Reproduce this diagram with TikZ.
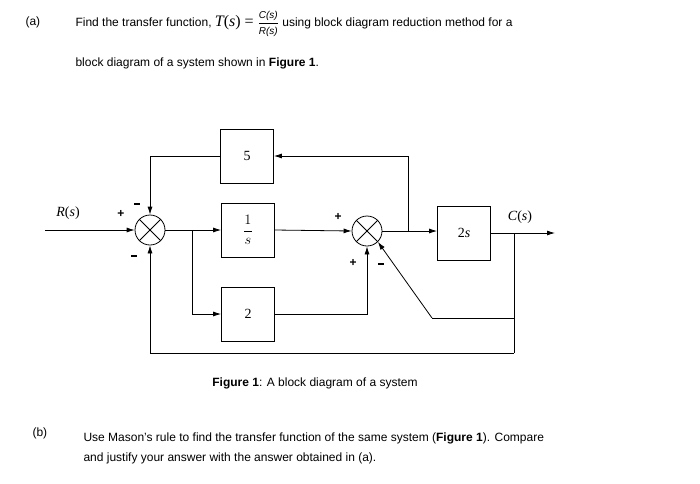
\documentclass[tikz,border=0pt]{standalone}
\usepackage{fontspec}
\setmainfont{Liberation Sans}
\newfontfamily\serifx{Liberation Serif}
\usetikzlibrary{arrows.meta}
\begin{document}
\begin{tikzpicture}[x=1pt,y=-1pt,
  blk/.style={draw,thick,minimum width=53pt,minimum height=54pt,inner sep=0pt,font=\serifx\fontsize{14}{16}\selectfont},
  sumj/.style={draw,thick,circle,minimum size=30pt,inner sep=0pt},
  sig/.style={thick,-{Latex[length=8pt,width=5pt]}},
  ln/.style={thick},
  mns/.style={line width=1.4pt},
  lbl/.style={font=\fontsize{12}{14}\selectfont},
  sgn/.style={font=\bfseries\fontsize{12}{12}\selectfont,inner sep=1pt}]
\useasboundingbox (0,0) rectangle (700,483);
\fill[white] (0,0) rectangle (700,483);
% header
\node[lbl,anchor=west] (qa) at (22,22) {(a)};
\node[lbl,anchor=west] (qt) at (72,24) {Find the transfer function, {\serifx\itshape\fontsize{16}{16}\selectfont T\upshape(\itshape s\upshape)\ =\ }$\displaystyle\frac{\mbox{\fontsize{10}{10}\selectfont\itshape C(s)}}{\mbox{\fontsize{10}{10}\selectfont\itshape R(s)}}$\ using block diagram reduction method for a};
\node[lbl,anchor=west] (ql) at (72,63) {block diagram of a system shown in \textbf{Figure 1}.};
% diagram
\node[sumj] (s1) at (150,230) {};
\draw[thick] (s1.45)--(s1.225) (s1.135)--(s1.315);
\node[sumj] (s2) at (367,231) {};
\draw[thick] (s2.45)--(s2.225) (s2.135)--(s2.315);
\node[blk] (b5) at (247,156) {5};
\node[blk] (bs) at (248,230) {$\displaystyle\frac{1}{s}$};
\node[blk] (b2) at (248,314) {2};
\node[blk] (b2s) at (464,233) {2\itshape s};
\coordinate (rin) at (45,230);
\coordinate (cout) at (555,233);
\node[font=\serifx\fontsize{14}{16}\selectfont] (rl) at (68,213) {\itshape R\upshape(\itshape s\upshape)};
\node[font=\serifx\fontsize{14}{16}\selectfont] (cl) at (520,217) {\itshape C\upshape(\itshape s\upshape)};
\draw[sig] (rin) -- (s1.west);
\draw[sig] (s1.east) -- (bs.west);
\draw[sig] (bs.east) -- (s2.west);
\draw[sig] (s2.east) -- (s2.east -| b2s.west);
\draw[sig] (b2s.east) -- (cout);
\coordinate (j1) at (192,231);
\draw[sig] (j1) |- (b2.west);
\draw[sig] (b2.east) -| (s2.south);
\coordinate (j2) at (408,231);
\draw[sig] (j2) |- (b5.east);
\draw[sig] (b5.west) -| (s1.north);
\coordinate (j3) at (514,233);
\draw[ln] (j3) -- (514,353) coordinate (c1);
\draw[sig] (c1) -| (s1.south);
\draw[ln] (514,318) -- (432,318) coordinate (c2);
\draw[sig] (c2) -- (s2.south east);
% signs
\node[sgn] at (121,214) {+};
\draw[mns] (134,204) -- (140,204);
\draw[mns] (131,256) -- (137,256);
\node[sgn] at (338,217) {+};
\node[sgn] at (353,263) {+};
\draw[mns] (378,264) -- (384,264);
\node[lbl] (cap) at (315,383) {\textbf{Figure 1}: A block diagram of a system};
\node[lbl,anchor=west] (qb) at (29,433) {(b)};
\node[lbl,anchor=west] (qbt) at (80,438) {Use Mason's rule to find the transfer function of the same system (\textbf{Figure 1}). Compare};
\node[lbl,anchor=west] (qbt2) at (80,458) {and justify your answer with the answer obtained in (a).};
\end{tikzpicture}
\end{document}
